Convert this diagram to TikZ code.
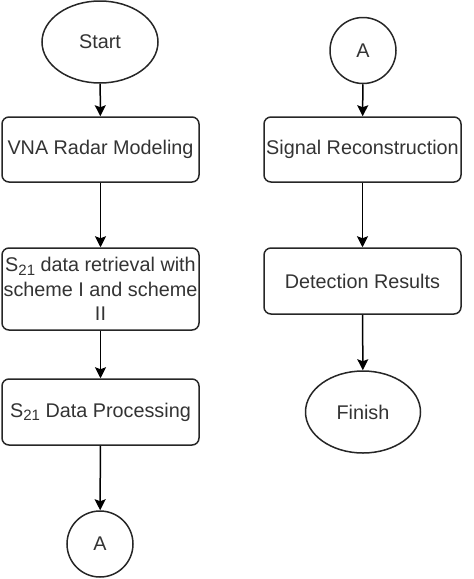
\documentclass[tikz,border=0pt]{standalone}
\usepackage{fontspec}
\setmainfont{Liberation Sans}
\usetikzlibrary{shapes.geometric,arrows.meta}
\newcommand{\mysub}[1]{\raisebox{-0.35ex}{\fontsize{15}{15}\selectfont #1}}
\begin{document}
\begin{tikzpicture}[x=1pt,y=-1pt,
  every node/.style={font=\fontsize{19.8}{24.5}\selectfont, text=black!80},
  procbox/.style={draw=black!85, line width=1.5pt, rounded corners=7pt, minimum width=197pt, minimum height=65pt, inner sep=0pt, align=center},
  term/.style={draw=black!85, line width=1.5pt, ellipse, minimum width=116pt, minimum height=82pt, inner sep=0pt},
  conn/.style={draw=black!85, line width=1.5pt, circle, minimum size=66pt, inner sep=0pt},
  flow/.style={draw=black, line width=1.5pt, -{Stealth[length=11pt,width=11pt,inset=2pt]}}
]
\useasboundingbox (0,0) rectangle (474,579);
% left column
\node[term] (start) at (100,42) {Start};
\node[procbox] (vna) at (100.5,149.5) {VNA Radar Modeling};
\node[procbox, minimum height=82pt] (ret) at (100.5,289) {S\mysub{21} data retrieval with\\scheme I and scheme\\II};
\node[procbox, minimum height=66pt] (proc) at (100.5,412) {S\mysub{21} Data Processing};
\node[conn] (a1) at (100,544) {A};
% right column
\node[conn] (a2) at (363,50.5) {A};
\node[procbox] (sig) at (362.5,149.5) {Signal Reconstruction};
\node[procbox, minimum height=66pt] (det) at (362.5,281) {Detection Results};
\node[term, minimum width=115pt] (fin) at (363,412) {Finish};
% connectors
\draw[flow] (start) -- (vna);
\draw[flow] (vna) -- (ret);
\draw[flow] (ret) -- (proc);
\draw[flow] (proc) -- (a1);
\draw[flow] (a2) -- (sig);
\draw[flow] (sig) -- (det);
\draw[flow] (det) -- (fin);
\end{tikzpicture}
\end{document}
